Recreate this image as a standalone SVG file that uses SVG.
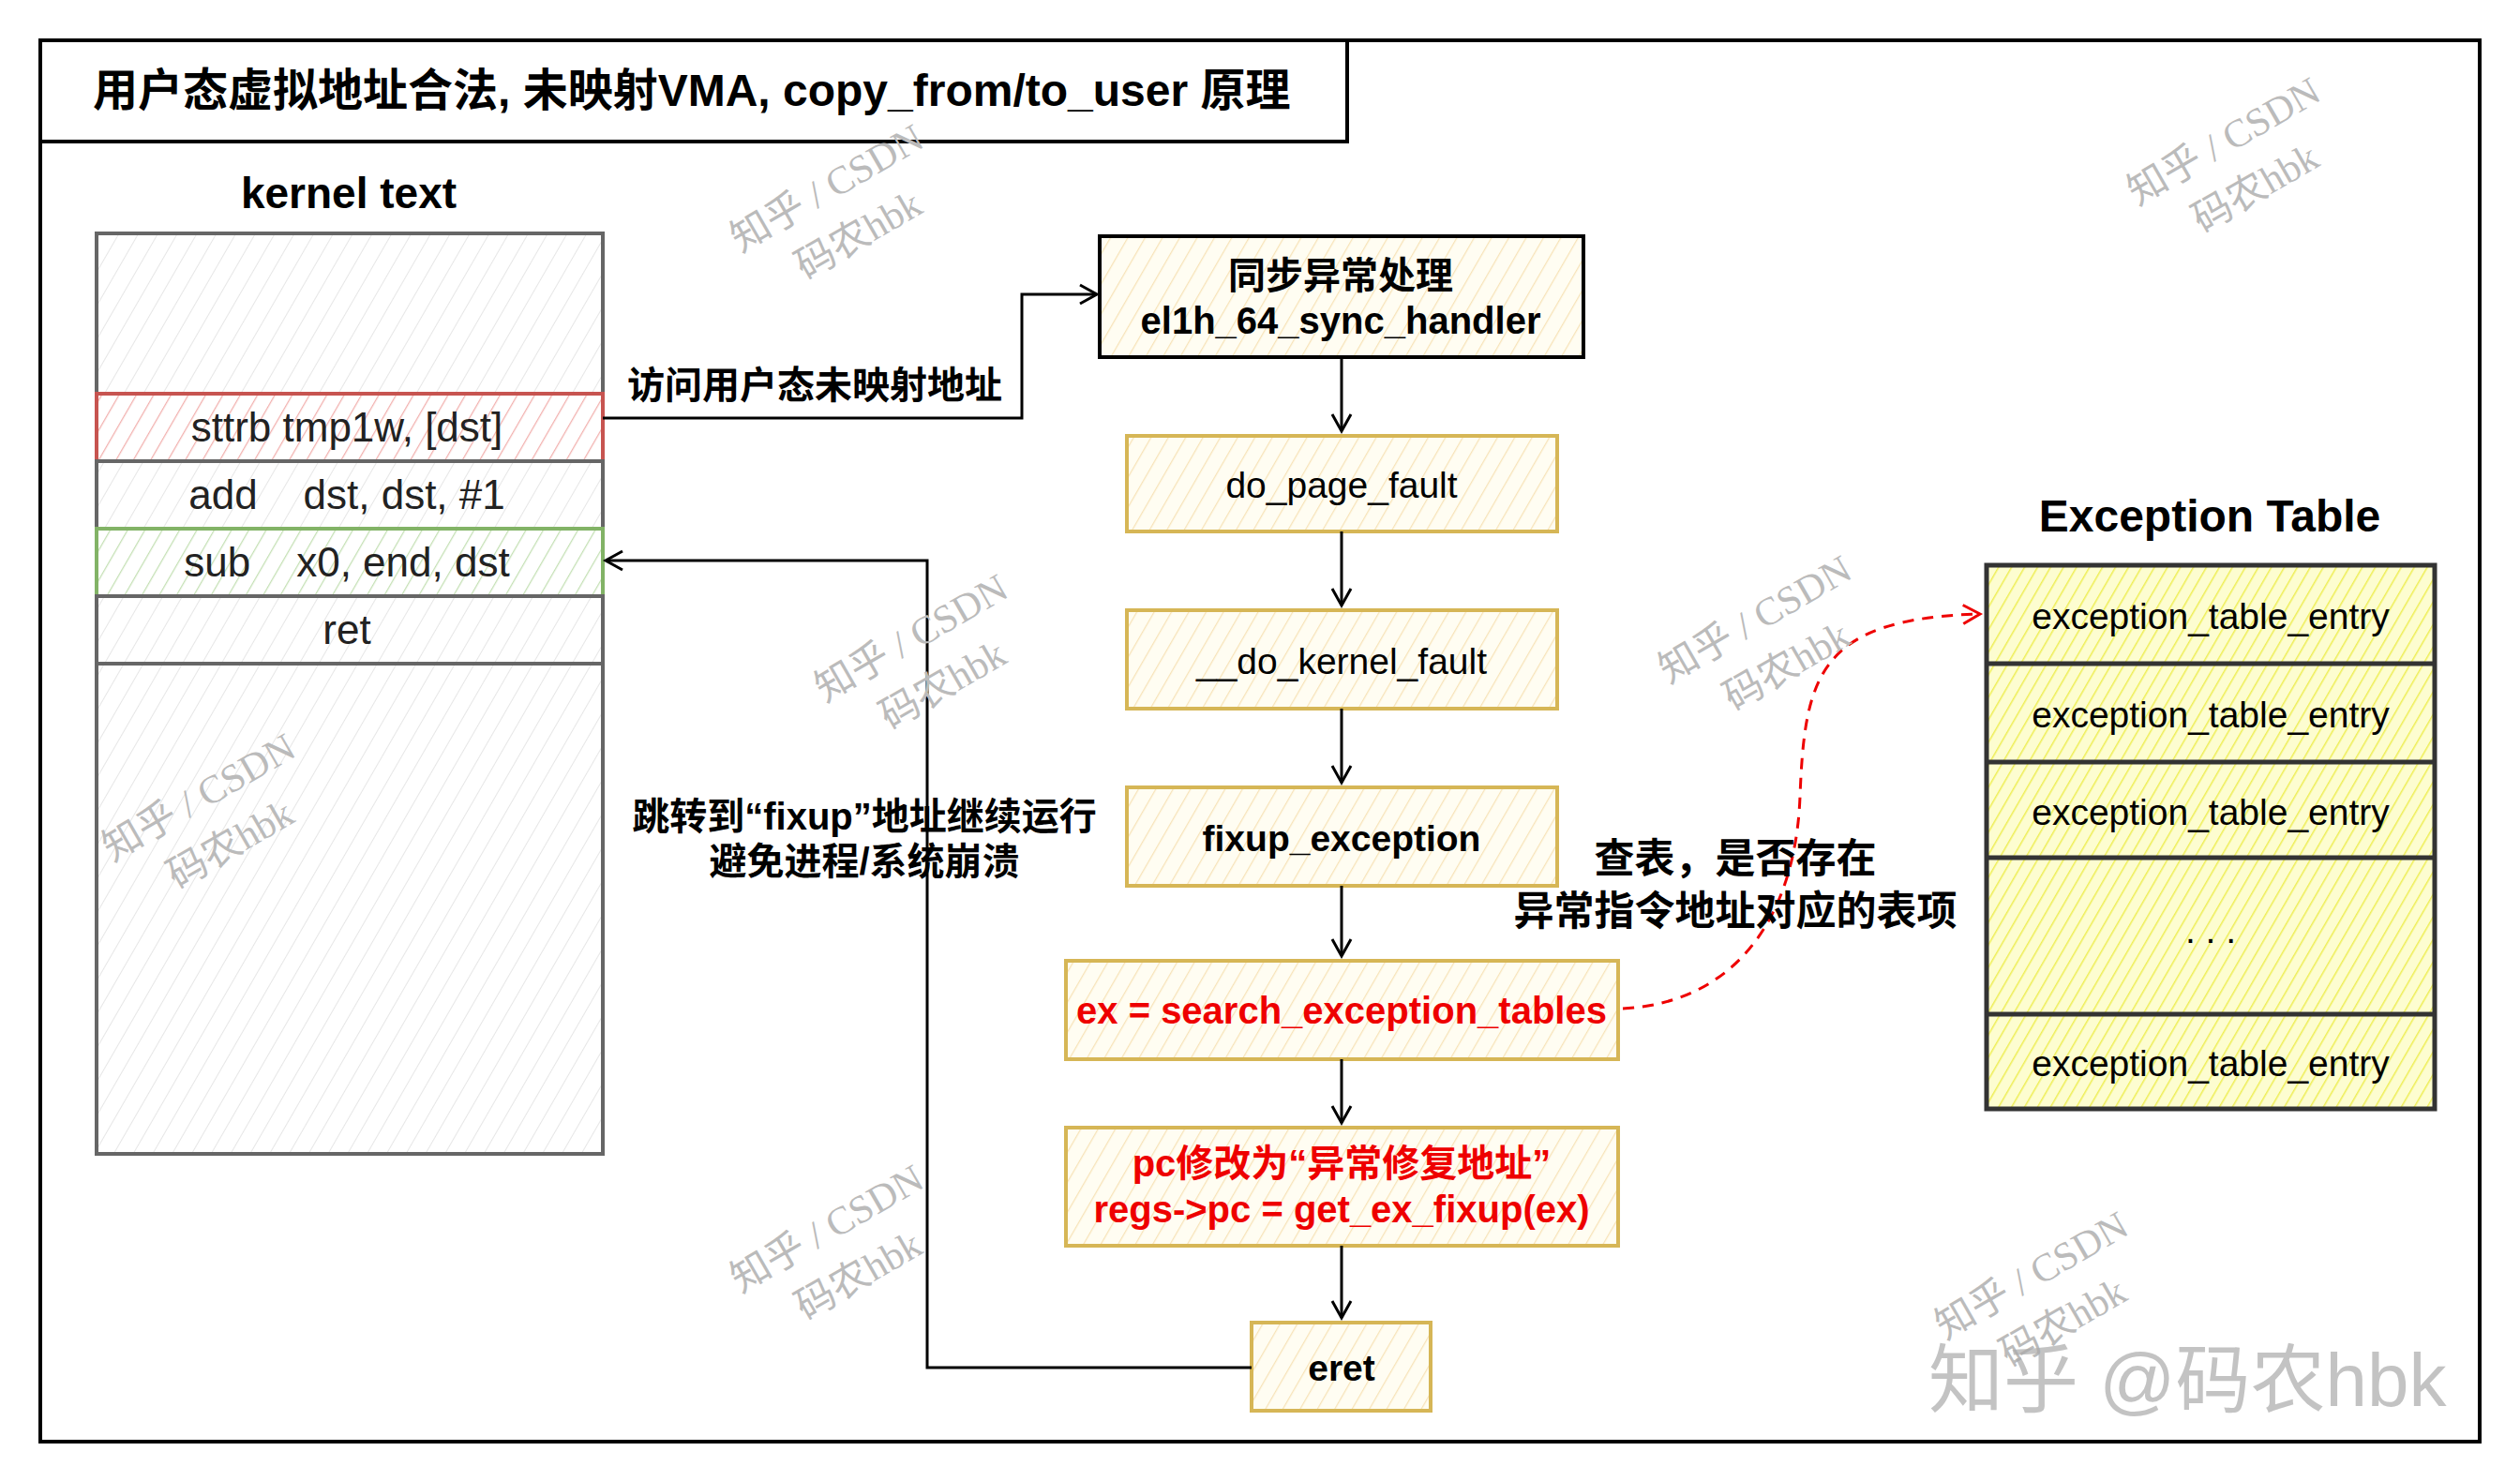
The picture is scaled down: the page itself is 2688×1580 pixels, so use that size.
<svg xmlns="http://www.w3.org/2000/svg" width="2688" height="1580" viewBox="0 0 2688 1580">
<style>
text{font-family:"Liberation Sans","Noto Sans CJK SC",sans-serif;}
.b{font-weight:bold}
.t{font-size:39px;text-anchor:middle}
.t2{font-size:40px;text-anchor:middle}
.code{font-size:44px;text-anchor:middle;fill:#222}
.lbl{font-size:40px;font-weight:bold;text-anchor:middle}
.gold{stroke:#d6b656;stroke-width:4;fill:url(#hy)}
.ln{stroke:#000;stroke-width:3;fill:none}
.wm{font-size:42px;fill:#bbb;font-family:"Liberation Serif","Noto Sans CJK SC",serif}
</style>
<defs>
<pattern id="hg" width="18" height="18" patternUnits="userSpaceOnUse" patternTransform="rotate(30)"><rect width="18" height="18" fill="#fff"/><line x1="0" y1="0" x2="0" y2="18" stroke="#e6e6e6" stroke-width="2"/></pattern>
<pattern id="hr" width="16" height="16" patternUnits="userSpaceOnUse" patternTransform="rotate(30)"><rect width="16" height="16" fill="#fff"/><line x1="0" y1="0" x2="0" y2="16" stroke="#f2b0ae" stroke-width="2.5"/></pattern>
<pattern id="hn" width="16" height="16" patternUnits="userSpaceOnUse" patternTransform="rotate(30)"><rect width="16" height="16" fill="#fff"/><line x1="0" y1="0" x2="0" y2="16" stroke="#c4e0b4" stroke-width="2.5"/></pattern>
<pattern id="hy" width="16" height="16" patternUnits="userSpaceOnUse" patternTransform="rotate(30)"><rect width="16" height="16" fill="#fffdf2"/><line x1="0" y1="0" x2="0" y2="16" stroke="#f7e3b8" stroke-width="2.5"/></pattern>
<pattern id="hyy" width="12" height="12" patternUnits="userSpaceOnUse" patternTransform="rotate(30)"><rect width="12" height="12" fill="#fdfdd0"/><line x1="0" y1="0" x2="0" y2="12" stroke="#eeee55" stroke-width="3"/></pattern>
<marker id="ar" markerWidth="24" markerHeight="24" refX="20" refY="12" orient="auto" markerUnits="userSpaceOnUse"><path d="M2,2 L20,12 L2,22" fill="none" stroke="#000" stroke-width="3"/></marker>
<marker id="arr" markerWidth="24" markerHeight="24" refX="20" refY="12" orient="auto" markerUnits="userSpaceOnUse"><path d="M2,2 L20,12 L2,22" fill="none" stroke="#e00" stroke-width="3"/></marker>
</defs>
<rect width="2688" height="1580" fill="#fff"/>
<g id="frame"><rect x="43" y="43" width="2602" height="1495" fill="none" stroke="#000" stroke-width="4"/></g>
<g id="title"><rect x="43" y="43" width="1394" height="108" fill="#fff" stroke="#000" stroke-width="4"/>
<text x="99" y="113" font-size="48" class="b">用户态虚拟地址合法, 未映射VMA, copy_from/to_user 原理</text></g>

<g id="kernel">
<text x="372" y="222" font-size="46" class="b" text-anchor="middle">kernel text</text>
<rect x="103" y="249" width="540" height="982" fill="url(#hg)" stroke="#666" stroke-width="4"/>
</g>
<g id="sttrb"><rect x="103" y="420" width="540" height="72" fill="url(#hr)" stroke="#c75450" stroke-width="4"/><text x="370" y="471" class="code">sttrb tmp1w, [dst]</text></g>
<g id="add"><rect x="103" y="492" width="540" height="72" fill="url(#hg)" stroke="#666" stroke-width="4"/><text x="370" y="543" class="code" xml:space="preserve">add    dst, dst, #1</text></g>
<g id="sub"><rect x="103" y="564" width="540" height="72" fill="url(#hn)" stroke="#82b366" stroke-width="4"/><text x="370" y="615" class="code" xml:space="preserve">sub    x0, end, dst</text></g>
<g id="ret"><rect x="103" y="636" width="540" height="72" fill="url(#hg)" stroke="#666" stroke-width="4"/><text x="370" y="687" class="code">ret</text></g>

<g id="handler"><rect x="1173" y="252" width="516" height="129" fill="url(#hy)" stroke="#000" stroke-width="4"/>
<text x="1430" y="308" class="lbl">同步异常处理</text><text x="1430" y="356" class="lbl">el1h_64_sync_handler</text></g>
<g id="dopf"><rect x="1202" y="465" width="459" height="102" class="gold"/><text x="1431" y="531" class="t">do_page_fault</text></g>
<g id="dokf"><rect x="1202" y="651" width="459" height="105" class="gold"/><text x="1431" y="719" class="t">__do_kernel_fault</text></g>
<g id="fixup"><rect x="1202" y="840" width="459" height="105" class="gold"/><text x="1431" y="908" class="t b">fixup_exception</text></g>
<g id="search"><rect x="1137" y="1025" width="589" height="105" class="gold"/><text x="1431" y="1092" class="t2 b" fill="#e00">ex = search_exception_tables</text></g>
<g id="pc"><rect x="1137" y="1203" width="589" height="126" class="gold"/><text x="1431" y="1255" class="t2 b" fill="#e00">pc修改为“异常修复地址”</text><text x="1431" y="1304" class="t2 b" fill="#e00">regs-&gt;pc = get_ex_fixup(ex)</text></g>
<g id="eret"><rect x="1335" y="1411" width="191" height="94" class="gold"/><text x="1431" y="1473" class="t b">eret</text></g>

<g id="table">
<text x="2357" y="567" font-size="48" class="b" text-anchor="middle">Exception Table</text>
<rect x="2119" y="603" width="478" height="580" fill="url(#hyy)" stroke="#333" stroke-width="5"/>
<g stroke="#333" stroke-width="5"><line x1="2119" y1="708" x2="2597" y2="708"/><line x1="2119" y1="813" x2="2597" y2="813"/><line x1="2119" y1="915" x2="2597" y2="915"/><line x1="2119" y1="1082" x2="2597" y2="1082"/></g>
<text x="2358" y="671" class="t">exception_table_entry</text>
<text x="2358" y="776" class="t">exception_table_entry</text>
<text x="2358" y="880" class="t">exception_table_entry</text>
<text x="2358" y="1006" class="t">. . .</text>
<text x="2358" y="1148" class="t">exception_table_entry</text>
</g>

<g id="connectors">
<path class="ln" d="M643,446 H1090 V314 H1170" marker-end="url(#ar)"/>
<path class="ln" d="M1431,381 V460" marker-end="url(#ar)"/>
<path class="ln" d="M1431,567 V646" marker-end="url(#ar)"/>
<path class="ln" d="M1431,756 V835" marker-end="url(#ar)"/>
<path class="ln" d="M1431,945 V1020" marker-end="url(#ar)"/>
<path class="ln" d="M1431,1130 V1198" marker-end="url(#ar)"/>
<path class="ln" d="M1431,1329 V1406" marker-end="url(#ar)"/>
<path class="ln" d="M1335,1459 H989 V598 H646" marker-end="url(#ar)"/>
<path d="M1731,1076 C1850,1070 1915,980 1920,850 C1925,720 1940,660 2112,655" fill="none" stroke="#e00" stroke-width="3" stroke-dasharray="12,9" marker-end="url(#arr)"/>
<text x="869" y="425" class="lbl">访问用户态未映射地址</text>
<text x="922" y="885" class="lbl">跳转到“fixup”地址继续运行</text>
<text x="922" y="933" class="lbl">避免进程/系统崩溃</text>
<text x="1851" y="931" font-size="43" class="b" text-anchor="middle">查表，是否存在</text>
<text x="1851" y="987" font-size="43" class="b" text-anchor="middle">异常指令地址对应的表项</text>
</g>

<g id="watermarks">
<g transform="translate(790,270) rotate(-30)"><text class="wm">知乎 / CSDN</text><text class="wm" x="45" y="60">码农hbk</text></g>
<g transform="translate(880,750) rotate(-30)"><text class="wm">知乎 / CSDN</text><text class="wm" x="45" y="60">码农hbk</text></g>
<g transform="translate(120,920) rotate(-30)"><text class="wm">知乎 / CSDN</text><text class="wm" x="45" y="60">码农hbk</text></g>
<g transform="translate(790,1380) rotate(-30)"><text class="wm">知乎 / CSDN</text><text class="wm" x="45" y="60">码农hbk</text></g>
<g transform="translate(1780,730) rotate(-30)"><text class="wm">知乎 / CSDN</text><text class="wm" x="45" y="60">码农hbk</text></g>
<g transform="translate(2280,220) rotate(-30)"><text class="wm">知乎 / CSDN</text><text class="wm" x="45" y="60">码农hbk</text></g>
<g transform="translate(2075,1430) rotate(-30)"><text class="wm">知乎 / CSDN</text><text class="wm" x="45" y="60">码农hbk</text></g>
<text x="2057" y="1500" font-size="80" fill="#aaa" fill-opacity="0.7" font-family="Noto Sans CJK SC,sans-serif">知乎 @码农hbk</text>
</g>
</svg>
